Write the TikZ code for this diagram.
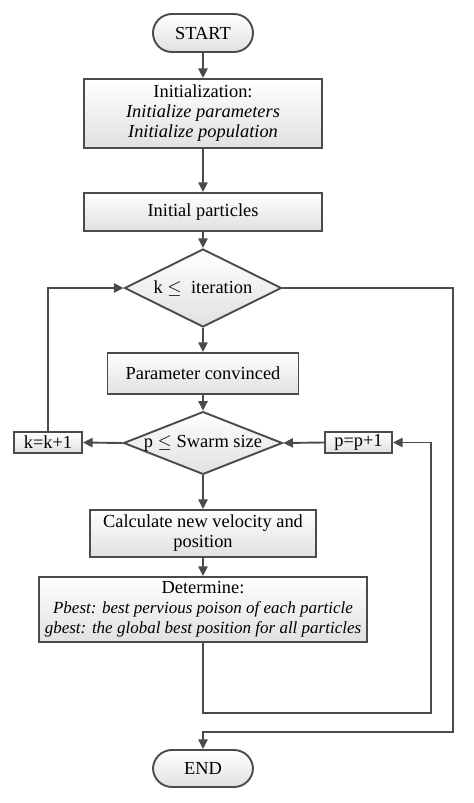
\documentclass[tikz,border=0pt]{standalone}
\usepackage{fontspec}
\setmainfont{Liberation Serif}
\usetikzlibrary{shapes.geometric,arrows.meta}
\definecolor{linegray}{RGB}{75,75,75}
\begin{document}
\begin{tikzpicture}[x=0.5pt,y=-0.5pt,
  font=\fontsize{9.2}{10}\selectfont,
  box/.style={draw=linegray,line width=0.95pt,top color=white,bottom color=gray!24,inner sep=0pt,align=center},
  term/.style={box,rounded corners=9.5pt},
  cond/.style={box,diamond},
  flow/.style={draw=linegray,line width=0.95pt,-{Triangle[length=4.8pt,width=4.6pt]}}]
\useasboundingbox (0,0) rectangle (474,803);

% main column
\node[term,minimum width=50pt,minimum height=19pt] (start) at (203,33) {START};
\node[box,minimum width=119pt,minimum height=34.5pt] (init) at (203,113.5)
  {Initialization:\\ \textit{Initialize parameters}\\ \textit{Initialize population}};
\node[box,minimum width=119pt,minimum height=19pt] (part) at (203,212) {Initial particles};
\node[cond,aspect=2,minimum width=78.5pt,minimum height=39pt] (iter) at (203,288) {k \(\leq\)\ \ iteration};
\node[box,minimum width=95.5pt,minimum height=20.5pt] (conv) at (203,373.5) {Parameter convinced};
\node[cond,aspect=2.53,minimum width=76pt,minimum height=30pt] (swarm) at (203,443) {p \(\leq\) Swarm size};
\node[box,minimum width=113pt,minimum height=23.5pt] (calc) at (203,533.5)
  {Calculate new velocity and\\ position};
\node[box,minimum width=164pt,minimum height=32.5pt] (det) at (203,609.5)
  {Determine:\\ {\fontsize{8.5}{10}\selectfont\itshape Pbest: best pervious poison of each particle}\\
   {\fontsize{8.5}{10}\selectfont\itshape gbest: the global best position for all particles}};
\node[term,minimum width=50pt,minimum height=18.5pt] (end) at (203,768.5) {END};

% counters
\node[box,minimum width=34pt,minimum height=10.5pt] (kinc) at (48,442.5) {k=k+1};
\node[box,minimum width=33.5pt,minimum height=10.5pt] (pinc) at (358.5,442.5) {p=p+1};

\coordinate (loopr) at (431,713);
\coordinate (exitr) at (453,732);

\draw[flow] (start) -- (init);
\draw[flow] (init) -- (part);
\draw[flow] (part) -- (iter);
\draw[flow] (iter) -- (conv);
\draw[flow] (conv) -- (swarm);
\draw[flow] (swarm) -- (calc);
\draw[flow] (calc) -- (det);
\draw[flow] (swarm.west) -- (kinc.east);
\draw[flow] (kinc.north) |- (iter.west);
\draw[flow] (pinc.west) -- (swarm.east);
\draw[flow] (det.south) |- (loopr) |- (pinc.east);
\draw[flow] (iter.east) -| (exitr) -| (end.north);
\end{tikzpicture}
\end{document}
